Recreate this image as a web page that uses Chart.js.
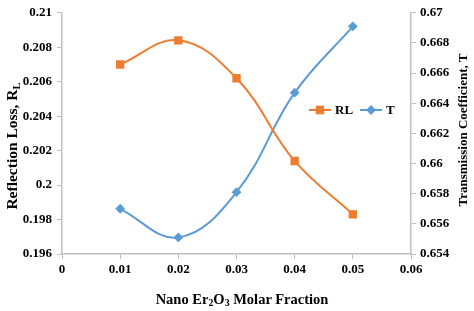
<!DOCTYPE html>
<html>
<head>
<meta charset="utf-8">
<script src="https://cdn.jsdelivr.net/npm/chart.js@4/dist/chart.umd.min.js"></script>
<style>
    body { margin: 0; background: #fff; }
    #wrap { position: relative; width: 474px; height: 311px; overflow: hidden; }
    #chart { position: absolute; left: 0; top: 0; }
    .title {
        position: absolute;
        font-family: "Liberation Serif", "Times New Roman", serif;
        font-weight: bold;
        color: #000;
        white-space: nowrap;
        text-align: center;
        height: 20px;
        line-height: 20px;
    }
    .title sub { font-size: 0.68em; vertical-align: -0.25em; line-height: 0; }
    /* fixed boxes, rotated about their centre */
    #yLeftTitle { font-size: 15.5px; width: 240px; left: -108px; top: 136px; transform: rotate(-90deg); }
    #yRightTitle { font-size: 13px; width: 240px; left: 343px; top: 120px; transform: rotate(-90deg); }
    #xTitle { font-size: 14.5px; width: 300px; left: 92px; top: 289px; }
</style>
</head>
<body>
<div id="wrap">
    <canvas id="chart" width="474" height="311"></canvas>
    <div class="title" id="yLeftTitle">Reflection Loss, R<sub>L</sub></div>
    <div class="title" id="yRightTitle">Transmission Coefficient, T</div>
    <div class="title" id="xTitle">Nano Er<sub>2</sub>O<sub>3</sub> Molar Fraction</div>
</div>
<script>
// Data
const molarFraction = [0.01, 0.02, 0.03, 0.04, 0.05];
const reflectionLoss = [0.2070, 0.2084, 0.2062, 0.2014, 0.1983];
const transmission = [0.6570, 0.6551, 0.6581, 0.6647, 0.6691];
const seriesNames = ['RL', 'T'];
const xTicks = [0, 0.01, 0.02, 0.03, 0.04, 0.05, 0.06];

const orange = '#ED7D31';
const blue = '#5B9BD5';
const axisColor = '#bfbfbf';
const tickFont = { family: '"Liberation Serif", "Times New Roman", serif', size: 13, weight: 'bold' };

function fmt(value) {
    return Number(value.toFixed(3)).toString();
}

// Legend drawn inside the plot area, like the original
const insideLegend = {
    id: 'insideLegend',
    afterDraw(chart) {
        const ctx = chart.ctx;
        const y = 110;
        let x = 309;
        ctx.save();
        ctx.font = 'bold 13px "Liberation Serif", serif';
        ctx.textBaseline = 'middle';
        chart.data.datasets.forEach(ds => {
            ctx.strokeStyle = ds.borderColor;
            ctx.lineWidth = 2;
            ctx.beginPath();
            ctx.moveTo(x, y);
            ctx.lineTo(x + 22, y);
            ctx.stroke();
            ctx.fillStyle = ds.pointBackgroundColor;
            Chart.helpers.drawPoint(ctx, {
                pointStyle: ds.pointStyle,
                radius: ds.pointRadius,
                borderWidth: 1
            }, x + 11, y);
            ctx.fillStyle = '#000';
            ctx.fillText(ds.label, x + 26, y + 1);
            x += 26 + ctx.measureText(ds.label).width + 7;
        });
        ctx.restore();
    }
};

function toPoints(ys) {
    return molarFraction.map((x, i) => ({ x: x, y: ys[i] }));
}

const ctx = document.getElementById('chart').getContext('2d');
new Chart(ctx, {
    type: 'line',
    data: {
        datasets: [
            {
                label: seriesNames[0],
                data: toPoints(reflectionLoss),
                yAxisID: 'yLeft',
                borderColor: orange,
                backgroundColor: orange,
                pointBackgroundColor: orange,
                pointBorderColor: orange,
                pointStyle: 'rect',
                pointRadius: 4.5,
                borderWidth: 2,
                tension: 0.4
            },
            {
                label: seriesNames[1],
                data: toPoints(transmission),
                yAxisID: 'yRight',
                borderColor: blue,
                backgroundColor: blue,
                pointBackgroundColor: blue,
                pointBorderColor: blue,
                pointStyle: 'rectRot',
                pointRadius: 3.5,
                borderWidth: 2,
                tension: 0.4
            }
        ]
    },
    options: {
        responsive: false,
        animation: false,
        layout: { padding: { top: 7, left: 0, right: 0, bottom: 0 } },
        plugins: {
            legend: { display: false },
            tooltip: { enabled: false }
        },
        scales: {
            x: {
                type: 'linear',
                min: 0,
                max: 0.06,
                afterFit: function(scale) { scale.height = 57; },
                afterBuildTicks: function(scale) {
                    scale.ticks = xTicks.map(v => ({ value: v }));
                },
                grid: { drawOnChartArea: false, color: axisColor, tickLength: 5 },
                border: { color: axisColor, width: 1.5 },
                ticks: {
                    color: '#000',
                    font: tickFont,
                    padding: 3,
                    maxRotation: 0,
                    callback: fmt
                }
            },
            yLeft: {
                type: 'linear',
                position: 'left',
                min: 0.196,
                max: 0.21,
                afterFit: function(scale) { scale.width = 62; },
                grid: { drawOnChartArea: false, color: axisColor, tickLength: 5 },
                border: { color: axisColor, width: 1.5 },
                ticks: {
                    stepSize: 0.002,
                    color: '#000',
                    font: tickFont,
                    padding: 5,
                    callback: fmt
                }
            },
            yRight: {
                type: 'linear',
                position: 'right',
                min: 0.654,
                max: 0.67,
                afterFit: function(scale) { scale.width = 63; },
                grid: { drawOnChartArea: false, color: axisColor, tickLength: 5 },
                border: { color: axisColor, width: 1.5 },
                ticks: {
                    stepSize: 0.002,
                    color: '#000',
                    font: tickFont,
                    padding: 4,
                    callback: fmt
                }
            }
        }
    },
    plugins: [insideLegend]
});
</script>
</body>
</html>
